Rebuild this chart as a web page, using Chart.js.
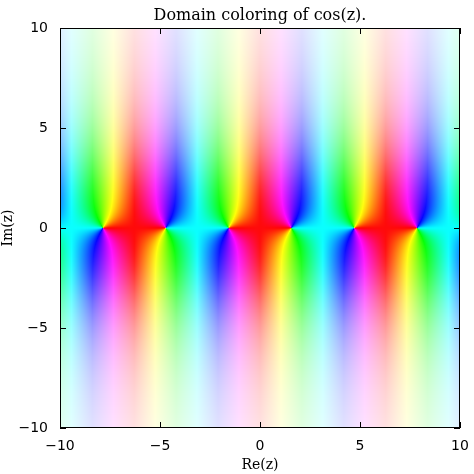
<!DOCTYPE html>
<html><head><meta charset="utf-8">
<script src="https://cdn.jsdelivr.net/npm/chart.js@4/dist/chart.umd.min.js"></script>
<style>html,body{margin:0;padding:0;background:#fff}#c{width:474px;height:474px}</style>
</head><body><div id="c"><canvas id="cv" width="474" height="474"></canvas></div>
<script>
const reRange = [-10, 10];
const imRange = [-10, 10];
const xTicks = [-10, -5, 0, 5, 10];
const yTicks = [-10, -5, 0, 5, 10];
const titleText = "Domain coloring of cos(z).";

function hsv(h, s, v) {
  const i = Math.floor(h * 6), f = h * 6 - i;
  const p = v * (1 - s), q = v * (1 - f * s), t = v * (1 - (1 - f) * s);
  switch (((i % 6) + 6) % 6) {
    case 0: return [v, t, p]; case 1: return [q, v, p]; case 2: return [p, v, t];
    case 3: return [p, q, v]; case 4: return [t, p, v]; default: return [v, p, q];
  }
}
const fmt = v => (v < 0 ? "\u2212" + (-v) : "" + v);

const domainPlugin = {
  id: 'domain',
  beforeDatasetsDraw(chart) {
    const { ctx, chartArea: a, scales: { x, y } } = chart;
    const w = Math.round(a.right - a.left), h = Math.round(a.bottom - a.top);
    const img = ctx.createImageData(w, h);
    for (let j = 0; j < h; j++) {
      const im = y.getValueForPixel(a.top + j + 0.5);
      const ch = Math.cosh(im), sh = Math.sinh(im);
      for (let i = 0; i < w; i++) {
        const re = x.getValueForPixel(a.left + i + 0.5);
        const cr = Math.cos(re) * ch, ci = -Math.sin(re) * sh;
        let hue = Math.atan2(ci, cr) / (2 * Math.PI); if (hue < 0) hue += 1;
        const m = Math.hypot(cr, ci);
        const l = Math.log10(m + 1);
        const s = 1 / (1 + 0.45 * l * l);
        const [r, g, b] = hsv(hue, s, 1);
        const k = (j * w + i) * 4;
        img.data[k] = r * 255; img.data[k + 1] = g * 255; img.data[k + 2] = b * 255; img.data[k + 3] = 255;
      }
    }
    ctx.putImageData(img, Math.round(a.left), Math.round(a.top));
  },
  afterDraw(chart) {
    const { ctx, chartArea: a, scales: { x, y } } = chart;
    ctx.save();
    ctx.strokeStyle = '#000'; ctx.lineWidth = 1;
    ctx.strokeRect(a.left + 0.5, a.top + 0.5, a.right - a.left - 1, a.bottom - a.top - 1);
    ctx.beginPath();
    xTicks.forEach(v => { const px = Math.round(x.getPixelForValue(v)) + 0.5;
      ctx.moveTo(px, a.bottom); ctx.lineTo(px, a.bottom - 6); ctx.moveTo(px, a.top); ctx.lineTo(px, a.top + 6); });
    yTicks.forEach(v => { const py = Math.round(y.getPixelForValue(v)) + 0.5;
      ctx.moveTo(a.left, py); ctx.lineTo(a.left + 6, py); ctx.moveTo(a.right, py); ctx.lineTo(a.right - 6, py); });
    ctx.stroke();
    ctx.fillStyle = '#000';
    ctx.font = '16px "DejaVu Serif"';
    ctx.textAlign = 'center'; ctx.textBaseline = 'bottom';
    ctx.fillText(titleText, (a.left + a.right) / 2, a.top - 4);
    ctx.restore();
  }
};

new Chart(document.getElementById('cv'), {
  type: 'scatter',
  data: { datasets: [{ data: [], pointRadius: 0 }] },
  options: {
    responsive: false, animation: false, devicePixelRatio: 1,
    layout: { padding: { top: 28, right: 14, left: 0, bottom: 0 } },
    plugins: { legend: { display: false }, tooltip: { enabled: false } },
    scales: {
      x: { type: 'linear', min: reRange[0], max: reRange[1],
        afterBuildTicks: s => { s.ticks = xTicks.map(v => ({ value: v })); },
        afterFit: s => { s.height = 46; },
        grid: { display: false }, border: { display: false },
        ticks: { color: '#000', font: { family: 'DejaVu Sans', size: 14 }, padding: 2, callback: fmt, maxRotation: 0 },
        title: { display: true, text: 'Re(z)', color: '#000', font: { family: 'DejaVu Serif', size: 14 }, padding: 0 } },
      y: { type: 'linear', min: imRange[0], max: imRange[1],
        afterBuildTicks: s => { s.ticks = yTicks.map(v => ({ value: v })); },
        afterFit: s => { s.width = 60; },
        grid: { display: false }, border: { display: false },
        ticks: { color: '#000', font: { family: 'DejaVu Sans', size: 14 }, padding: 4, callback: fmt },
        title: { display: true, text: 'Im(z)', color: '#000', font: { family: 'DejaVu Serif', size: 14 }, padding: 0 } }
    }
  },
  plugins: [domainPlugin]
});
</script></body></html>
